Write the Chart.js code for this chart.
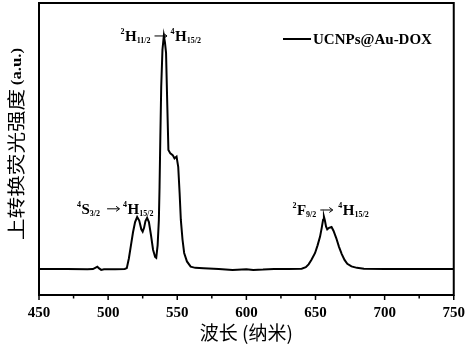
<!DOCTYPE html>
<html>
<head>
<meta charset="utf-8">
<script src="https://cdn.jsdelivr.net/npm/chart.js@4/dist/chart.umd.min.js"></script>
<style>
  html, body { margin: 0; padding: 0; background: #fff; }
  #wrap { width: 474px; height: 348px; }
</style>
</head>
<body>
<div id="wrap"><canvas id="chart"></canvas></div>
<script>
// emission spectrum (nm, arbitrary units 0-100)
const wavelength = [
  450, 470, 485, 489, 491, 492.2, 493.5, 495, 497, 505,
  512, 513.5, 515, 516.5, 518, 519.5, 521, 522.5, 524, 525,
  526, 527, 528.2, 529.5, 531, 532.5, 534, 534.8, 535.8, 536.7,
  537.2, 537.8, 538.4, 539.3, 540.3, 541.1, 541.9, 542.8, 543.6, 545,
  546.7, 548, 549.5, 550.7, 551.7, 552.6, 553.8, 555, 557, 559.7,
  563, 569, 580, 590, 600, 605, 612, 620, 630, 640,
  643, 645, 647, 649.7, 651.5, 653.3, 654.5, 655.5, 656.1, 656.8,
  657.6, 658.5, 659.8, 661.6, 663, 665, 667, 669, 671, 673,
  676, 680, 685, 700, 750
];
const intensity = [
  8.9, 8.9, 8.8, 8.9, 9.4, 9.7, 9.1, 8.6, 8.8, 8.8,
  8.9, 9.2, 12.5, 17, 21.5, 25, 26.7, 25.5, 22.5, 21.7,
  23, 25.3, 26.4, 25, 20.5, 15.5, 13, 12.7, 17, 25.7,
  37, 55, 71.2, 84, 88.8, 86.5, 82.9, 65, 49.7, 48.5,
  47.9, 46.8, 47.4, 43.9, 35, 25.7, 19, 14.4, 11.5, 9.7,
  9.3, 9.2, 8.9, 8.6, 8.8, 8.6, 8.7, 8.9, 8.9, 9.0,
  9.5, 10.5, 12, 14.4, 17, 20, 23, 25.8, 26.8, 25.5,
  23.5, 22.5, 23, 23.3, 22, 19.5, 16.5, 14, 12, 10.7,
  9.8, 9.3, 9.0, 8.9, 8.9
];
const majorTicks = [450, 500, 550, 600, 650, 700, 750];
const minorTicks = [475, 525, 575, 625, 675, 725];
const seriesName = 'UCNPs@Au-DOX';

const serif = '"Liberation Serif", "Times New Roman", serif';
const cjk = '"Noto Sans CJK SC", sans-serif';

// draws a term symbol like ²H₁₁/₂ → ⁴H₁₅/₂ piece by piece
function drawTerm(ctx, x, y, parts) {
  ctx.textBaseline = 'alphabetic';
  ctx.textAlign = 'left';
  for (const [kind, txt] of parts) {
    if (kind === 'gap') { x += txt; continue; }
    if (kind === 'arrow') {
      ctx.save();
      ctx.strokeStyle = '#000';
      ctx.lineWidth = 1;
      ctx.beginPath();
      ctx.moveTo(x, y - 5); ctx.lineTo(x + 12, y - 5);
      ctx.moveTo(x + 9, y - 7.5); ctx.lineTo(x + 12.5, y - 5); ctx.lineTo(x + 9, y - 2.5);
      ctx.stroke();
      ctx.restore();
      x += 13;
      continue;
    }
    let dy = 0;
    if (kind === 'main') ctx.font = 'bold 15px ' + serif;
    if (kind === 'sup') { ctx.font = 'bold 8px ' + serif; dy = -7; }
    if (kind === 'sub') { ctx.font = 'bold 8px ' + serif; dy = 2; }
    ctx.fillText(txt, x, y + dy);
    x += ctx.measureText(txt).width + (kind === 'sup' ? 0.5 : 0);
  }
}

const decorations = {
  id: 'decorations',
  afterDraw(chart) {
    const { ctx, chartArea: a, scales: { x, y } } = chart;
    ctx.save();
    ctx.fillStyle = '#000';
    ctx.strokeStyle = '#000';

    // frame
    ctx.lineWidth = 2;
    ctx.strokeRect(a.left, a.top, a.right - a.left, a.bottom - a.top);

    // outward ticks on the bottom axis
    ctx.lineWidth = 1.5;
    ctx.beginPath();
    majorTicks.forEach(v => { const px = x.getPixelForValue(v); ctx.moveTo(px, a.bottom); ctx.lineTo(px, a.bottom + 5); });
    minorTicks.forEach(v => { const px = x.getPixelForValue(v); ctx.moveTo(px, a.bottom); ctx.lineTo(px, a.bottom + 3.5); });
    ctx.stroke();

    // transition labels
    drawTerm(ctx, x.getPixelForValue(509), y.getPixelForValue(87),
      [['sup', '2'], ['main', 'H'], ['sub', '11/2'], ['gap', 4], ['arrow'], ['gap', 3], ['sup', '4'], ['main', 'H'], ['sub', '15/2']]);
    drawTerm(ctx, x.getPixelForValue(477.5), y.getPixelForValue(27.8),
      [['sup', '4'], ['main', 'S'], ['sub', '3/2'], ['gap', 7], ['arrow'], ['gap', 3], ['sup', '4'], ['main', 'H'], ['sub', '15/2']]);
    drawTerm(ctx, x.getPixelForValue(633.3), y.getPixelForValue(27.4),
      [['sup', '2'], ['main', 'F'], ['sub', '9/2'], ['gap', 4], ['arrow'], ['gap', 5], ['sup', '4'], ['main', 'H'], ['sub', '15/2']]);

    // legend
    ctx.lineWidth = 2;
    ctx.beginPath();
    ctx.moveTo(283, 39); ctx.lineTo(311, 39);
    ctx.stroke();
    ctx.font = 'bold 15px ' + serif;
    ctx.textBaseline = 'alphabetic';
    ctx.fillText(seriesName, 313, 44);

    // y title (mixed fonts, slightly stretched like the source)
    ctx.translate(16, 240);
    ctx.rotate(-Math.PI / 2);
    ctx.scale(1.2, 1);
    ctx.textBaseline = 'middle';
    ctx.font = '18px ' + cjk;
    const zh = '上转换荧光强度';
    ctx.fillText(zh, 0, 0);
    const w = ctx.measureText(zh).width;
    ctx.font = 'bold 14px ' + serif;
    ctx.fillText('(a.u.)', w + 3, 1);
    ctx.restore();
  }
};

new Chart(document.getElementById('chart'), {
  type: 'line',
  data: {
    datasets: [{
      label: seriesName,
      data: wavelength.map((v, i) => ({ x: v, y: intensity[i] })),
      borderColor: '#000',
      borderWidth: 2,
      pointRadius: 0,
      tension: 0
    }]
  },
  options: {
    responsive: true,
    maintainAspectRatio: false,
    animation: false,
    layout: { padding: { left: 39, right: 13, top: 3, bottom: 0 } },
    plugins: { legend: { display: false }, tooltip: { enabled: false } },
    scales: {
      x: {
        type: 'linear',
        min: 450,
        max: 750,
        afterBuildTicks: s => { s.ticks = majorTicks.map(v => ({ value: v })); },
        afterFit: s => { s.height = 53; },
        grid: { display: false, drawTicks: false },
        border: { display: false },
        ticks: {
          color: '#000',
          padding: 9,
          maxRotation: 0,
          font: { family: serif, size: 15, weight: 'bold' }
        },
        title: {
          display: true,
          text: '波长 (纳米)',
          color: '#000',
          padding: { top: 0, bottom: 4 },
          font: { family: cjk, size: 19 }
        }
      },
      y: {
        min: 0,
        max: 100,
        display: false
      }
    }
  },
  plugins: [decorations]
});
</script>
</body>
</html>
